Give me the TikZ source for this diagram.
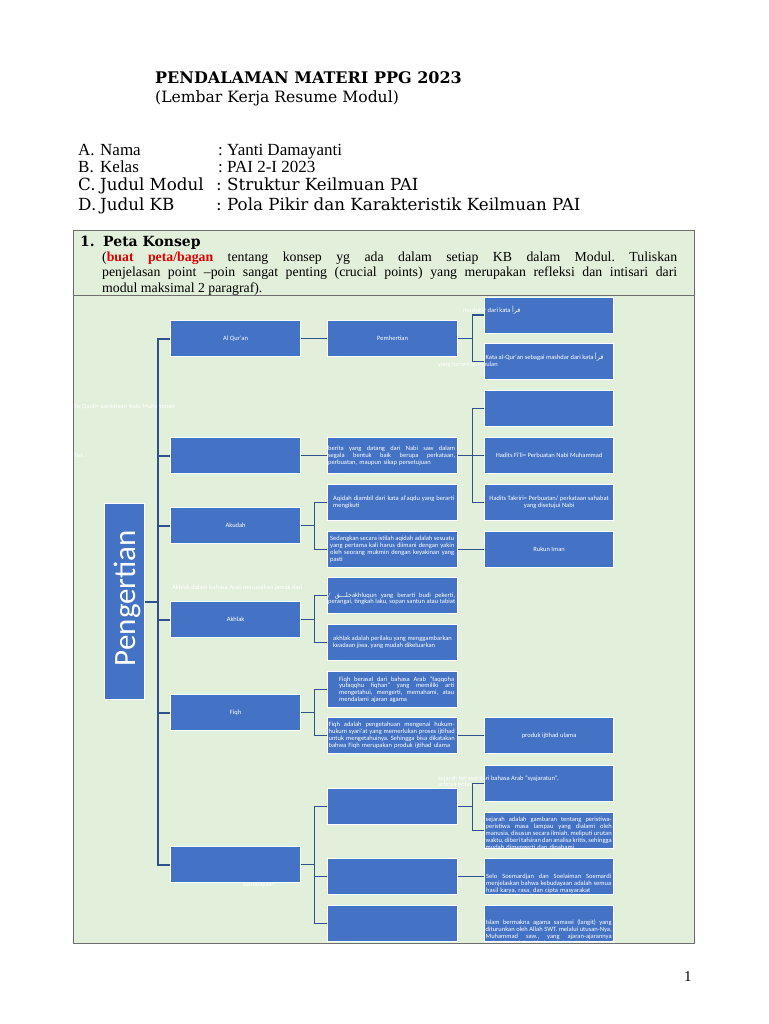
\documentclass[tikz,border=0pt]{standalone}
\usepackage{fontspec}
\usetikzlibrary{calc}
\setmainfont{Liberation Serif}
\newfontfamily\cbr{Carlito}
\newfontfamily\dvs{DejaVu Serif}
\newfontfamily\arabicfont[Script=Arabic]{DejaVu Sans}
\TeXXeTstate=1
\frenchspacing
\definecolor{boxblue}{HTML}{4472C4}
\definecolor{lineblue}{HTML}{2F528F}
\definecolor{greenbg}{HTML}{E2EFDA}
\definecolor{framegray}{HTML}{6E6E6E}
\definecolor{redtxt}{HTML}{E00000}
\newlength{\jw}
\newcommand{\JL}[1]{{\spaceskip=0pt\xspaceskip=0pt\makebox[\jw][s]{#1}}}
\newcommand{\AR}[1]{{\arabicfont\beginR #1\endR}}
\begin{document}
\begin{tikzpicture}[x=1pt,y=-1pt,
  bx/.style={draw=white, line width=1.2pt, fill=boxblue, minimum width=130pt, minimum height=36pt,
     inner sep=0pt, anchor=north west, text=white, font=\cbr\fontsize{6.5}{6.9}\selectfont},
  bxr/.style={bx, minimum width=129pt},
  tx/.style={text=white, inner sep=0pt, font=\cbr\fontsize{6.5}{6.9}\selectfont\frenchspacing},
  conn/.style={draw=lineblue, line width=1.4pt},
  trunk/.style={draw=lineblue, line width=1.8pt},
  hdr/.style={anchor=base west, inner sep=0pt},
  fa/.style={hdr, font=\fontsize{17}{20}\selectfont},
  fc/.style={hdr, font=\dvs\fontsize{16.7}{20}\selectfont},
]
\useasboundingbox (0,0) rectangle (768,1024);
\fill[white] (0,0) rectangle (768,1024);

% ---------- header ----------
\node[hdr, font=\dvs\bfseries\fontsize{16}{19}\selectfont] (title) at (155,84) {PENDALAMAN MATERI PPG 2023};
\node[hdr, font=\dvs\fontsize{15.6}{19}\selectfont] (sub) at (155,103) {(Lembar Kerja Resume Modul)};

\node[fa] (la) at (78,156) {A.};
\node[fa] (na) at (100,156) {Nama};
\node[fa] (va) at (218,156) {: Yanti Damayanti};
\node[fa] (lb) at (78,173) {B.};
\node[fa] (nb) at (100,173) {Kelas};
\node[fa] (vb) at (218,173) {: PAI 2-I 2023};
\node[fc] (lc) at (78,191) {C.};
\node[fc] (nc) at (100,191) {Judul Modul};
\node[fc] (vc) at (216,191) {: Struktur Keilmuan PAI};
\node[fc] (ld) at (78,211) {D.};
\node[fc] (nd) at (100,211) {Judul KB};
\node[fc] (vd) at (216,211) {: Pola Pikir dan Karakteristik Keilmuan PAI};

% ---------- green frame ----------
\fill[greenbg] (73,231) rectangle (694,943);

\node[hdr, font=\dvs\bfseries\fontsize{14}{16}\selectfont] (num) at (80,247) {1.};
\node[hdr, font=\dvs\bfseries\fontsize{14}{16}\selectfont] (pk) at (103,247) {Peta Konsep};
\node[hdr, font=\fontsize{13.8}{16}\selectfont] (p1) at (102,261)
  {\makebox[575pt][s]{(\textcolor{redtxt}{\bfseries buat peta/bagan} tentang konsep yg ada dalam setiap KB dalam Modul. Tuliskan}};
\node[hdr, font=\fontsize{13.8}{16}\selectfont] (p2) at (102,276.5)
  {\makebox[575pt][s]{penjelasan point –poin sangat penting (crucial points) yang merupakan refleksi dan intisari dari}};
\node[hdr, font=\fontsize{13.8}{16}\selectfont] (p3) at (102,292) {modul maksimal 2 paragraf).};

\begin{scope}
\clip (73.5,295.5) rectangle (693.5,942.5);

% faint texts lying behind
\node[tx, anchor=east] (q1) at (175,407) {Hadis Qauli= perkataan Nabi Muhammad};
\node[tx, anchor=east] (q2) at (83,455) {hadist};
\node[tx, anchor=west] (q3) at (172,588) {Akhlak dalam bahasa Arab merupakan jamak dari};
\node[tx, anchor=west] (q4) at (243,885) {kebudayaan};

% ---------- level 0 ----------
\node[bx, minimum width=40pt, minimum height=196pt] (pg) at (104,503) {};
\node[rotate=90, anchor=base, inner sep=0pt, text=white, font=\cbr\fontsize{31}{31}\selectfont] (pgt) at (135,598) {Pengertian};

% ---------- level 1 ----------
\node[bx] (aq) at (170,320) {Al Qur'an};
\node[bx] (hd) at (170,437) {};
\node[bx] (ak) at (170,507) {Akudah};
\node[bx] (akh) at (170,601) {Akhlak};
\node[bx] (fq) at (170,694) {Fiqh};
\node[bx] (kb) at (170,846) {};

% ---------- level 2 ----------
\node[bx] (pem) at (327,320) {Pemhertian};
\node[bx] (ber) at (327,437) {};
\node[bx] (aq1) at (327,484) {};
\node[bx] (aq2) at (327,531) {};
\node[bx] (kh1) at (327,577) {};
\node[bx] (kh2) at (327,624) {};
\node[bx] (f1) at (327,671) {};
\node[bx] (f2) at (327,717) {};
\node[bx] (s1) at (327,788) {};
\node[bx] (s2) at (327,858) {};
\node[bx] (s3) at (327,905) {};

% ---------- level 3 ----------
\node[bxr] (b1) at (484,296.5) {};
\node[bxr] (b2) at (484,343) {};
\node[bxr] (b3) at (484,390) {};
\node[bxr] (b4) at (484,437) {Hadits Fi'li= Perbuatan Nabi Muhammad};
\node[bxr, align=center] (b5) at (484,484) {Hadits Takriri= Perbuatan/ perkataan sahabat\\yang disetujui Nabi};
\node[bxr] (b6) at (484,531) {Rukun Iman};
\node[bxr] (b7) at (484,717) {produk ijtihad ulama};
\node[bxr] (b8) at (484,765) {};
\node[bxr] (b9) at (484,812) {};
\node[bxr] (b10) at (484,858) {};
\node[bxr] (b11) at (484,905) {};

% ---------- texts in level 2 ----------
\node[tx, anchor=west, text width=127pt, align=left] (tber) at ($(ber.west)+(1,0)$)
  {\setlength{\jw}{127pt}\JL{berita yang datang dari Nabi saw dalam}\\\JL{segala bentuk baik berupa perkataan,}\\perbuatan, maupun sikap persetujuan};
\node[tx, anchor=west, text width=121pt, align=left] (taq1) at ($(aq1.west)+(6,0)$)
  {\setlength{\jw}{121pt}\JL{Aqidah diambil dari kata al'aqdu yang berarti}\\mengikuti};
\node[tx, anchor=west, text width=124pt, align=left] (taq2) at ($(aq2.west)+(3,0)$)
  {\setlength{\jw}{124pt}\JL{Sedangkan secara istilah aqidah adalah sesuatu}\\\JL{yang pertama kali harus diimani dengan yakin}\\\JL{oleh seorang mukmin dengan keyakinan yang}\\pasti};
\node[tx, anchor=west, text width=127pt, align=left] (tkh1) at ($(kh1.west)+(1,3)$)
  {\setlength{\jw}{127pt}\JL{/ \AR{خلـــق}akhluqun yang berarti budi pekerti,}\\\JL{perangai, tingkah laku, sopan santun atau tabiat}};
\node[tx, anchor=west, align=left] (tkh2) at ($(kh2.west)+(6,0)$)
  {akhlak adalah perilaku yang menggambarkan\\keadaan jiwa. yang mudah dikeluarkan};
\node[tx, anchor=west, text width=115pt, align=left] (tf1) at ($(f1.west)+(12,0)$)
  {\setlength{\jw}{115pt}\JL{Fiqh berasal dari bahasa Arab “faqqoha}\\\JL{yufaqqhu fiqhan” yang memiliki arti}\\\JL{mengetahui, mengerti, memahami, atau}\\mendalami ajaran agama};
\node[tx, anchor=west, text width=126pt, align=left] (tf2) at ($(f2.west)+(1.5,0)$)
  {\setlength{\jw}{126pt}\JL{Fiqh adalah pengetahuan mengenai hukum-}\\\JL{hukum syari'at yang memerlukan proses ijtihad}\\\JL{untuk mengetahuinya. Sehingga bisa dikatakan}\\bahwa Fiqh merupakan produk ijtihad ulama};

% ---------- texts in level 3 (overflowing, clipped) ----------
\begin{scope}
\clip (b9.north west) rectangle (b9.south east);
\node[tx, anchor=north west, text width=126pt, align=left] (tb9) at ($(b9.north west)+(1.5,5)$)
  {\setlength{\jw}{126pt}\JL{sejarah adalah gambaran tentang peristiwa-}\\\JL{peristiwa masa lampau yang dialami oleh}\\\JL{manusia, disusun secara ilmiah, meliputi urutan}\\\JL{waktu, diberi tafsiran dan analisa kritis, sehingga}\\mudah dimengerti dan dipahami.};
\end{scope}
\begin{scope}
\clip (b10.north west) rectangle (b10.south east);
\node[tx, anchor=north west, text width=125pt, align=left] (tb10) at ($(b10.north west)+(2,16)$)
  {\setlength{\jw}{125pt}\JL{Selo Soemardjan dan Soelaiman Soemardi}\\\JL{menjelaskan bahwa kebudayaan adalah semua}\\hasil karya, rasa, dan cipta masyarakat};
\end{scope}
\begin{scope}
\clip (b11.north west) rectangle (b11.south east);
\node[tx, anchor=north west, text width=126pt, align=left] (tb11) at ($(b11.north west)+(1.5,15)$)
  {\setlength{\jw}{126pt}\JL{Islam bermakna agama samawi (langit) yang}\\\JL{diturunkan oleh Allah SWT. melalui utusan-Nya,}\\\JL{Muhammad saw., yang ajaran-ajarannya}\\\JL{terkandung dalam kitab suci al-Qur'an dan sunnah}};
\end{scope}

% overlapping white texts
\node[tx, anchor=west] (o1) at (463,310) {mashdar dari kata \AR{قرأ}};
\node[tx, anchor=west] (o2) at (485.5,357) {Kata al-Qur'an sebagai mashdar dari kata \AR{قرأ}};
\node[tx, anchor=west] (o3) at (438,365) {yang berarti kumpulan};
\node[tx, anchor=west] (o4) at (438,779) {sejarah berasal dari bahasa Arab “syajaratun”,};
\node[tx, anchor=west] (o5) at (438,785) {artinya pohon};

% ---------- connectors ----------
\foreach \t in {aq,hd,ak,akh,fq,kb}
  \draw[trunk] (pg.east) -- ++(13,0) |- (\t.west);
\draw[conn] (aq.east) -- (pem.west);
\draw[conn] (hd.east) -- (ber.west);
\foreach \t in {aq1,aq2} \draw[conn] (ak.east) -- ++(13,0) |- (\t.west);
\foreach \t in {kh1,kh2} \draw[conn] (akh.east) -- ++(13,0) |- (\t.west);
\foreach \t in {f1,f2} \draw[conn] (fq.east) -- ++(13,0) |- (\t.west);
\foreach \t in {s1,s2,s3} \draw[conn] (kb.east) -- ++(13,0) |- (\t.west);
\foreach \t in {b1,b2} \draw[conn] (pem.east) -- ++(14,0) |- (\t.west);
\foreach \t in {b3,b4,b5} \draw[conn] (ber.east) -- ++(14,0) |- (\t.west);
\draw[conn] (aq2.east) -- (b6.west);
\draw[conn] (f2.east) -- (b7.west);
\foreach \t in {b8,b9} \draw[conn] (s1.east) -- ++(14,0) |- (\t.west);
\draw[conn] (s2.east) -- (b10.west);
\end{scope}

% frame lines on top
\draw[framegray, line width=1pt] (73,231) rectangle (694,943);
\draw[framegray, line width=1pt] (73,295) -- (694,295);

% page number
\node[hdr, font=\fontsize{15}{18}\selectfont] (pn) at (684,981) {1};
\end{tikzpicture}
\end{document}
